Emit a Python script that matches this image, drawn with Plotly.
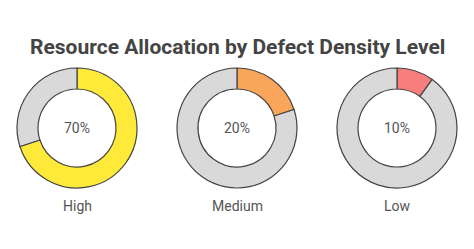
import plotly.graph_objects as go

categories = ["High", "Medium", "Low"]
values = [70, 20, 10]
colors = ["#FFEA3A", "#F9A55A", "#F87E7E"]
rest_color = "#D9D9D9"
title = "Resource Allocation by Defect Density Level"

W, H = 474, 249
centers_x = [77, 237, 397]
cy = 128
R = 60

fig = go.Figure()
for i, (cat, v, c) in enumerate(zip(categories, values, colors)):
    cx = centers_x[i]
    fig.add_trace(go.Pie(
        values=[v, 100 - v],
        labels=[cat, "Other"],
        marker=dict(colors=[c, rest_color], line=dict(color="#444444", width=1.2)),
        hole=0.65,
        sort=False,
        direction="clockwise",
        rotation=0,
        textinfo="none",
        hoverinfo="label+percent",
        showlegend=False,
        domain=dict(x=[(cx - R) / W, (cx + R) / W], y=[(H - cy - R) / H, (H - cy + R) / H]),
    ))
    fig.add_annotation(x=cx / W, y=(H - cy) / H, xref="paper", yref="paper",
                       xanchor="center", yanchor="middle",
                       text=f"{v}%", showarrow=False,
                       font=dict(family="Roboto", size=14, color="#555555"))
    fig.add_annotation(x=cx / W, y=(H - 206) / H, xref="paper", yref="paper",
                       xanchor="center", yanchor="middle",
                       text=cat, showarrow=False,
                       font=dict(family="Roboto", size=14, color="#555555"))

fig.add_annotation(x=0.5, y=(H - 47) / H, xref="paper", yref="paper",
                   xanchor="center", yanchor="middle",
                   text=f"<b>{title}</b>", showarrow=False,
                   font=dict(family="Roboto", size=21, color="#444444"))

fig.update_layout(width=W, height=H, margin=dict(l=0, r=0, t=0, b=0),
                  paper_bgcolor="white", plot_bgcolor="white")
fig.write_html("out.html")
